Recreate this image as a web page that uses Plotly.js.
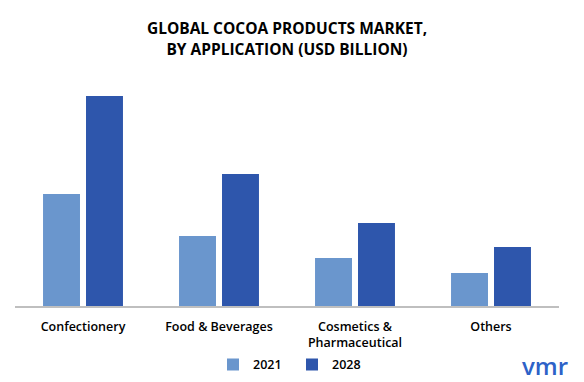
<!DOCTYPE html>
<html>
<head>
<meta charset="utf-8">
<script src="https://cdn.plot.ly/plotly-3.0.1.min.js"></script>
<style>html,body{margin:0;padding:0;background:#fff;}#chart{width:584px;height:382px;}</style>
</head>
<body>
<div id="chart"></div>
<script>
const categories = ["Confectionery", "Food & Beverages", "Cosmetics &<br>Pharmaceutical", "Others"];
const values2021 = [5.6, 3.5, 2.4, 1.65];
const values2028 = [10.5, 6.6, 4.15, 2.95];
const seriesNames = ["2021", "2028"];

const colors = ["#6a96cd", "#2e56ac"];
const fontFam = "Open Sans, Noto Sans, sans-serif";

const data = [
  {type: "bar", name: seriesNames[0], x: categories, y: values2021, marker: {color: colors[0]}, hoverinfo: "none"},
  {type: "bar", name: seriesNames[1], x: categories, y: values2028, marker: {color: colors[1]}, hoverinfo: "none"}
];

const layout = {
  width: 584, height: 382,
  paper_bgcolor: "#ffffff", plot_bgcolor: "#ffffff",
  margin: {l: 15, r: 25, t: 80, b: 76, autoexpand: false},
  barmode: "group", bargap: 0.368, bargroupgap: 0.14,
  title: {
    text: "GLOBAL COCOA PRODUCTS MARKET,<br>BY APPLICATION (USD BILLION)",
    x: 0.5, xanchor: "center", xref: "paper", yref: "container", y: 0.91, yanchor: "middle",
    font: {family: fontFam, size: 15.5, color: "#000", weight: 700}
  },
  xaxis: {
    type: "category", showline: true, linecolor: "#bfbfbf", linewidth: 1.5,
    ticks: "", showgrid: false, zeroline: false, fixedrange: true, automargin: false,
    ticklabelstandoff: 8,
    tickfont: {family: fontFam, size: 12.5, color: "#000", weight: 600}
  },
  yaxis: {
    range: [0, 11.3], visible: false, showgrid: false, zeroline: false, fixedrange: true
  },
  showlegend: true,
  legend: {
    orientation: "h", xref: "container", yref: "container", x: 0.5, xanchor: "center", y: 0.045, yanchor: "middle",
    font: {family: fontFam, size: 12.5, color: "#000", weight: 600},
    itemwidth: 30, entrywidth: 34, traceorder: "normal"
  },
  annotations: [{
    text: "vmr", xref: "paper", yref: "paper", x: 1.02, y: -0.265, xanchor: "right", yanchor: "middle",
    showarrow: false, font: {family: fontFam, size: 24, color: "#2d62c8", weight: 600}
  }]
};

Plotly.newPlot("chart", data, layout, {displayModeBar: false, staticPlot: true});
</script>
</body>
</html>
